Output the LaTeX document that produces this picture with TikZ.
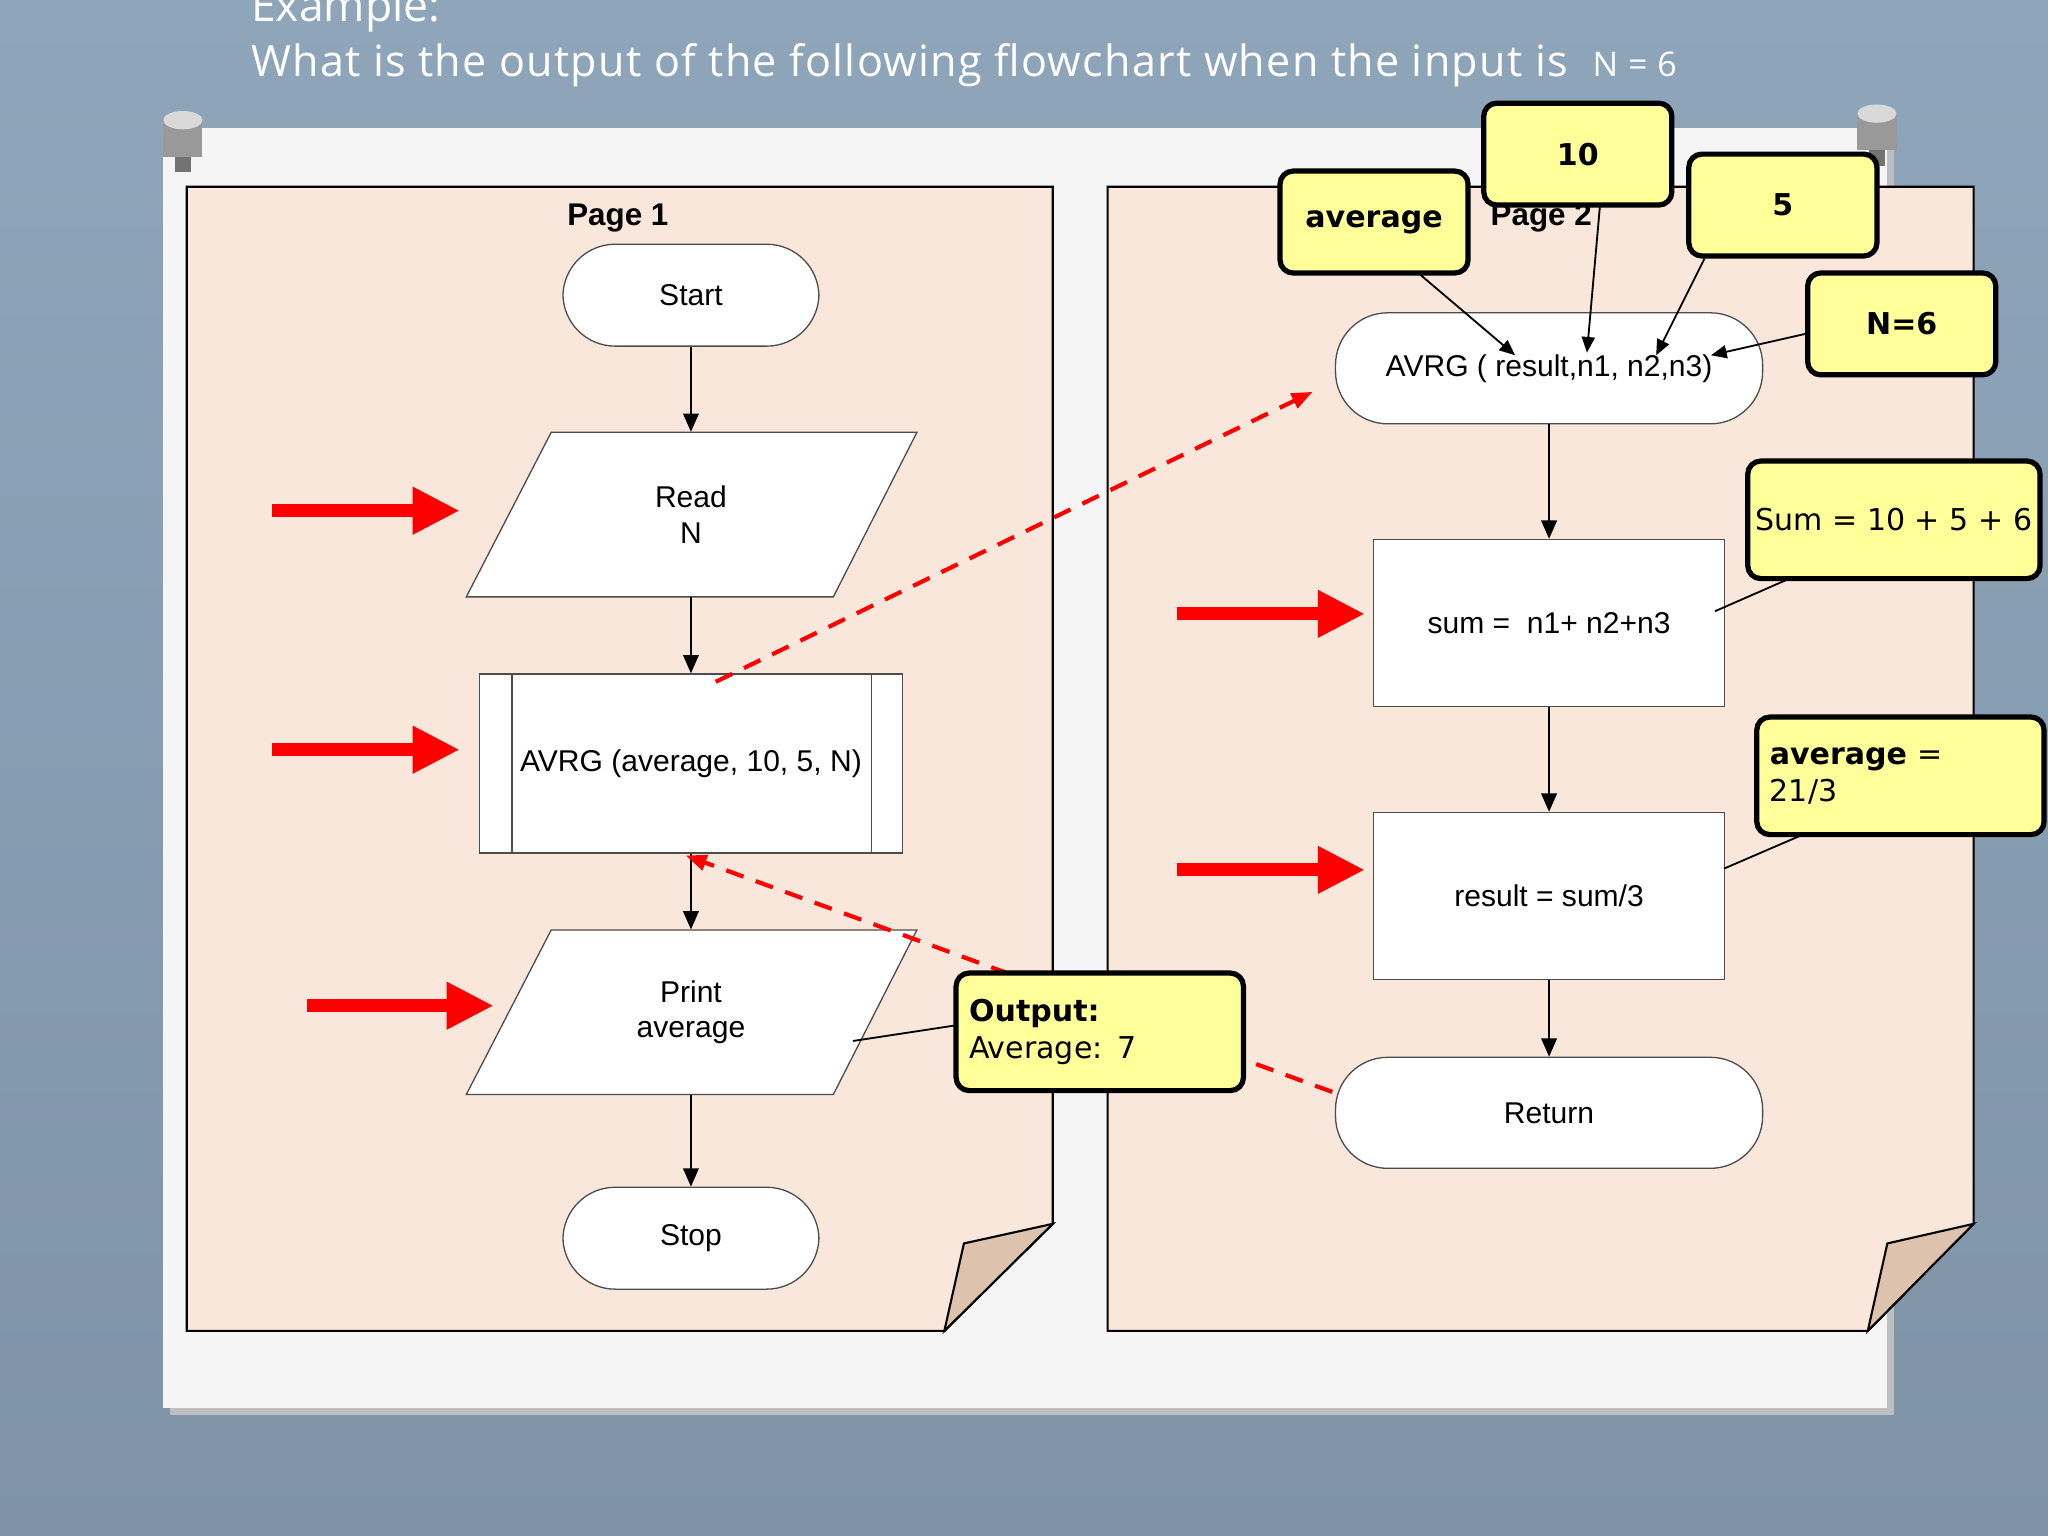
\documentclass[tikz,border=0pt]{standalone}
\usepackage{fontspec}
\setmainfont{Liberation Sans}
\newfontfamily\callf{DejaVu Sans}
\newfontfamily\titlef{Open Sans}
\usetikzlibrary{arrows.meta}
\definecolor{bgtop}{HTML}{8FA6BA}
\definecolor{bgbot}{HTML}{7E93A6}
\definecolor{pagec}{HTML}{F8E7DA}
\definecolor{foldc}{HTML}{DDC3AE}
\definecolor{yel}{HTML}{FFFF99}
\definecolor{redc}{HTML}{FF0000}
\begin{document}
\begin{tikzpicture}[x=0.5pt,y=-0.5pt,
  box/.style={draw=black!70,fill=white,line width=0.5pt,minimum width=134.5pt,minimum height=64pt,font=\fontsize{11.5}{13.5}\selectfont,align=center},
  term/.style={draw=black!70,fill=white,line width=0.5pt,rounded corners=20pt,font=\fontsize{11.5}{13.5}\selectfont,align=center},
  ghost/.style={inner sep=0pt,font=\fontsize{11.5}{13.5}\selectfont,align=center},
  flow/.style={-{Triangle[length=7pt,width=6pt]},line width=0.6pt,black},
  call/.style={draw=black,fill=yel,line width=2pt,rounded corners=5pt,font=\callf\fontsize{11.5}{14}\selectfont,inner sep=3pt},
  callb/.style={call,font=\callf\bfseries\fontsize{11.5}{14}\selectfont,minimum width=72pt,minimum height=39pt},
  ptr/.style={-{Triangle[length=6pt,width=5pt]},line width=0.7pt},
  bigred/.style={-{Triangle[length=18pt,width=17pt]},line width=5pt,redc},
  reddash/.style={-{Triangle[length=8pt,width=6pt]},redc,line width=1.6pt,dash pattern=on 7pt off 5pt}]
\useasboundingbox (0,0) rectangle (1568,1176);
\shade[top color=bgtop,bottom color=bgbot] (0,0) rectangle (1568,1176);
% paper
\fill[black!25] (130,103) rectangle (1450,1083);
\fill[white!96!black] (125,98) rectangle (1445,1078);
% pins
\foreach \px/\py in {140/100,1437/95}{
  \fill[black!40] (\px-15,\py-8) rectangle (\px+15,\py+20);
  \fill[white!85!black] (\px,\py-8) ellipse (15 and 7);
  \fill[black!55] (\px-6,\py+20) rectangle (\px+6,\py+32);
}
% pages
\fill[pagec,draw=black,line width=0.8pt] (143,143) -- (806,143) -- (806,937) -- (723,1019) -- (143,1019) -- cycle;
\fill[foldc,draw=black,line width=0.8pt] (806,937) -- (723,1019) -- (738,952) -- cycle;
\fill[pagec,draw=black,line width=0.8pt] (848,143) -- (1511,143) -- (1511,937) -- (1430,1019) -- (848,1019) -- cycle;
\fill[foldc,draw=black,line width=0.8pt] (1511,937) -- (1430,1019) -- (1445,952) -- cycle;
% title
\node[anchor=west,text=white,font=\titlef\fontsize{17}{19}\selectfont,inner sep=0pt] (ex) at (192,8) {Example:};
\node[anchor=west,text=white,font=\titlef\fontsize{16.5}{18}\selectfont,inner sep=0pt] (q) at (192,50) {\addfontfeature{LetterSpace=3}What is the output of the following flowchart when the input is \ {\fontsize{13}{15}\selectfont N = 6}};
% page 1
\node[font=\bfseries\fontsize{12}{14}\selectfont] (p1) at (473,167) {Page 1};
\node[term,minimum width=98pt,minimum height=39pt] (start) at (529,226) {Start};
\draw[draw=black!70,fill=white,line width=0.5pt] (357,457) -- (422,331) -- (702,331) -- (638,457) -- cycle;
\node[ghost,minimum width=120pt,minimum height=63pt] (read) at (529,394) {Read\\N};
\node[box,minimum width=162pt,minimum height=68.5pt] (avrg) at (529,584.5) {AVRG (average, 10, 5, N)};
\draw[black!70,line width=0.5pt] (392,516) -- (392,653) (667,516) -- (667,653);
\draw[draw=black!70,fill=white,line width=0.5pt] (357,838) -- (422,712) -- (702,712) -- (638,838) -- cycle;
\node[ghost,minimum width=120pt,minimum height=63pt] (print) at (529,775) {Print\\average};
\node[term,minimum width=98pt,minimum height=39pt] (stop) at (529,948) {Stop};
\draw[flow] (start) -- (read.north);
\draw[flow] (read.south) -- (avrg);
\draw[flow] (avrg.south) -- (print.north);
\draw[flow] (print.south) -- (stop);
% page 2
\node[font=\bfseries\fontsize{12}{14}\selectfont] (p2) at (1180,167) {Page 2};
\node[term,minimum width=163.5pt,minimum height=42.5pt] (sub) at (1186,282) {AVRG ( result,n1, n2,n3)};
\node[box] (sum) at (1186,477) {sum = \ n1+ n2+n3};
\node[box] (res) at (1186,686) {result = sum/3};
\node[term,minimum width=163.5pt,minimum height=42.5pt] (ret) at (1186,852) {Return};
\draw[flow] (sub) -- (sum);
\draw[flow] (sum) -- (res);
\draw[flow] (res) -- (ret);
% red dashed
\coordinate (d1) at (548,522);
\coordinate (d2) at (1005,300);
\draw[reddash] (d1) -- (d2);
\coordinate (d3) at (1020,836);
\coordinate (d4) at (525,655);
\draw[reddash] (d3) -- (d4);
% red arrows
\foreach \a/\b/\yy in {208/352/391,208/352/574,235/378/770,901/1045/470,901/1045/666}
  \draw[bigred] (\a,\yy) -- (\b,\yy);
% callouts
\node[callb] (cav) at (1052,170) {average};
\node[callb] (c10) at (1208,118) {10};
\node[callb] (c5) at (1365,157) {5};
\node[callb] (cn) at (1456,248) {N=6};
\node[call,minimum width=110pt,minimum height=45pt] (csum) at (1450,398) {Sum = 10 + 5 + 6};
\node[call,minimum width=110pt,minimum height=45pt,align=left,text width=100pt] (cavg) at (1455,594) {\textbf{average} =\\21/3};
\coordinate (t1) at (1160,272);
\coordinate (t2) at (1215,270);
\coordinate (t3) at (1268,272);
\coordinate (t4) at (1310,272);
\draw[ptr] (1087,210) -- (t1);
\draw[ptr] (1225,157) -- (t2);
\draw[ptr] (1305,198) -- (t3);
\draw[ptr] (1385,255) -- (t4);
\coordinate (s1) at (1313,468);
\coordinate (s2) at (1320,665);
\draw[line width=0.7pt] (1370,443) -- (s1);
\draw[line width=0.7pt] (1378,640) -- (s2);
\coordinate (o1) at (653,797);
\draw[line width=0.7pt] (732,785) -- (o1);
\node[call,minimum width=110pt,minimum height=45pt,align=left,text width=100pt] (cout) at (842,790) {\textbf{Output:}\\Average: 7};
\end{tikzpicture}
\end{document}
